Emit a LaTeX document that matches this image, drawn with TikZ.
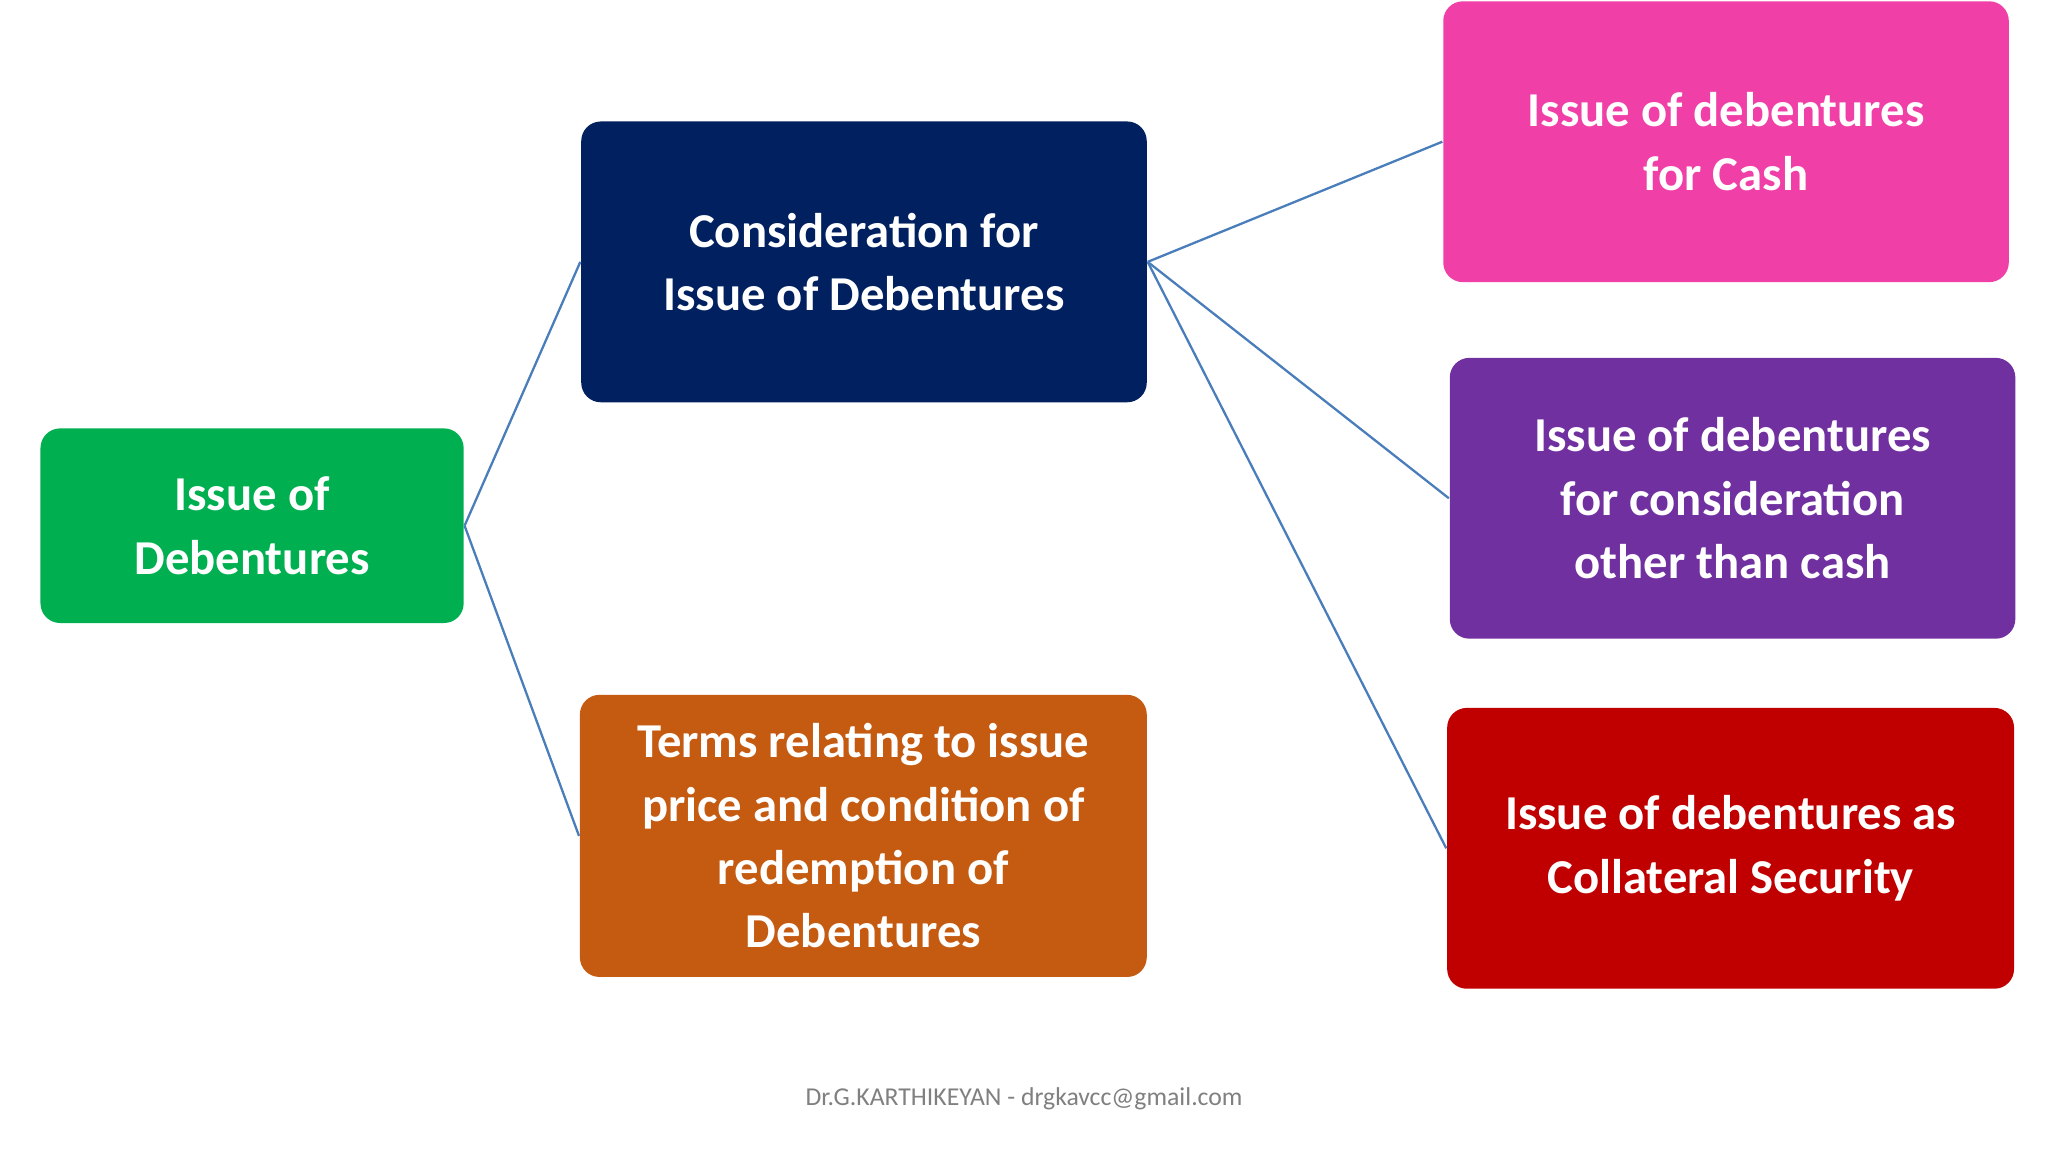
\documentclass[tikz,border=0pt]{standalone}
\usepackage{fontspec}
\setmainfont{Carlito}
\definecolor{cgreen}{HTML}{00B050}
\definecolor{cnavy}{HTML}{002060}
\definecolor{corange}{HTML}{C55A11}
\definecolor{cpink}{HTML}{F040A8}
\definecolor{cpurple}{HTML}{7030A0}
\definecolor{cred}{HTML}{C00000}
\definecolor{cline}{HTML}{4A7EBB}
\begin{document}
\begin{tikzpicture}[x=0.01cm,y=-0.01cm,
  box/.style={rounded corners=0.15cm,text=white,font=\fontsize{10.6}{13.8}\selectfont\bfseries,align=center},
  conn/.style={draw=cline,line width=0.5pt}]
\useasboundingbox (0,0) rectangle (1568,882);
\fill[white] (0,0) rectangle (1568,882);
\newcommand{\mybox}[6]{\fill[#6,rounded corners=0.15cm] (#2,#3) rectangle (#4,#5);
  \node[box,minimum width={(#4-#2)*0.01cm},minimum height={(#5-#3)*0.01cm}] (#1) at ({(#2+#4)/2},{(#3+#5)/2}) {};}
\mybox{a}{31}{328}{355}{477}{cgreen}
\mybox{b}{445}{93}{878}{308}{cnavy}
\mybox{c}{444}{532}{878}{748}{corange}
\mybox{d}{1105}{1}{1538}{216}{cpink}
\mybox{e}{1110}{274}{1543}{489}{cpurple}
\mybox{f}{1108}{542}{1542}{757}{cred}
\node[box] at (a) {Issue of\\Debentures};
\node[box] at (b) {Consideration for\\Issue of Debentures};
\node[box] at (c) {Terms relating to issue\\price and condition of\\redemption of\\Debentures};
\node[box] at (d) {Issue of debentures\\for Cash};
\node[box] at (e) {Issue of debentures\\for consideration\\other than cash};
\node[box] at (f) {Issue of debentures as\\Collateral Security};
\draw[conn] (a.east) -- (b.west);
\draw[conn] (a.east) -- (c.west);
\draw[conn] (b.east) -- (d.west);
\draw[conn] (b.east) -- (e.west);
\draw[conn] (b.east) -- (f.west);
\node[text=gray,font=\fontsize{5.6}{7}\selectfont] (g) at (784,841) {Dr.G.KARTHIKEYAN - drgkavcc@gmail.com};
\end{tikzpicture}
\end{document}
